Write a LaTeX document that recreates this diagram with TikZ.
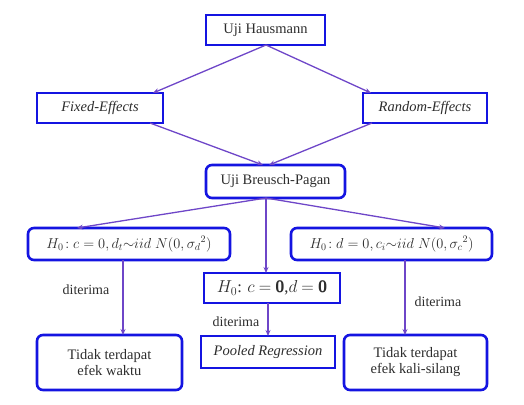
\documentclass[tikz,border=0pt]{standalone}
\usepackage{fontspec}
\setmainfont{Liberation Serif}
\usetikzlibrary{arrows.meta}
\definecolor{boxblue}{RGB}{20,20,225}
\definecolor{arrowpurple}{RGB}{110,70,200}
\definecolor{txt}{RGB}{45,45,45}
\begin{document}
\begin{tikzpicture}[x=1pt,y=-1pt,
  sqbox/.style={draw=boxblue,line width=2.6pt,fill=white,inner sep=0pt,text=txt,font=\fontsize{14.5}{16}\selectfont},
  rdbox/.style={sqbox,rounded corners=6pt},
  conn/.style={draw=arrowpurple,line width=1.3pt,-{Stealth[length=6pt,width=5pt]}},
  lbl/.style={font=\fontsize{14}{16}\selectfont,text=txt,inner sep=0pt}]
\useasboundingbox (0,0) rectangle (524,404);
\node[sqbox,minimum width=119pt,minimum height=30pt] (hau) at (265.5,30) {Uji Hausmann};
\node[sqbox,minimum width=126pt,minimum height=30pt] (fe) at (100,108) {\itshape Fixed-Effects};
\node[sqbox,minimum width=124pt,minimum height=30pt] (re) at (425,108) {\itshape Random-Effects};
\node[rdbox,minimum width=139pt,minimum height=33pt] (bp) at (275.5,181.5) {Uji Breusch-Pagan};
\node[rdbox,minimum width=202pt,minimum height=32pt] (hl) at (129,244) {$H_0\!: c=0, d_t{\sim}iid\;N(0,{\sigma_d}^2)$};
\node[rdbox,minimum width=201pt,minimum height=32pt] (hr) at (391.5,244) {$H_0\!: d=0, c_i{\sim}iid\;N(0,{\sigma_c}^2)$};
\node[sqbox,minimum width=136pt,minimum height=30pt,font=\fontsize{16.5}{18}\selectfont] (hm) at (272,288) {$H_0$: $c$ $=$ \textsf{\textbf{0}},$d$ $=$ \textsf{\textbf{0}}};
\node[sqbox,minimum width=134pt,minimum height=32pt] (pr) at (268,352) {\textit{Pooled Regression}};
\node[rdbox,minimum width=145pt,minimum height=55pt,align=center] (tw) at (109.5,362.5) {Tidak terdapat\\efek waktu};
\node[rdbox,minimum width=143pt,minimum height=55pt,align=center] (tk) at (415.5,362.5) {Tidak terdapat\\efek kali-silang};
\coordinate (hauB) at (266,45);
\coordinate (feT) at (153,93);
\coordinate (reT) at (371,93);
\coordinate (feB) at (150,123);
\coordinate (reB) at (372,123);
\coordinate (bpT1) at (263,165);
\coordinate (bpT2) at (269,165);
\coordinate (bpB) at (266,198);
\coordinate (hlT) at (77,228);
\coordinate (hrT) at (445,228);
\coordinate (hmT) at (266,273);
\coordinate (hlB) at (123,260);
\coordinate (twT) at (123,335);
\coordinate (hrB) at (405,260);
\coordinate (tkT) at (405,335);
\coordinate (hmB) at (268,303);
\coordinate (prT) at (268,336);
\draw[conn] (hauB) -- (feT);
\draw[conn] (hauB) -- (reT);
\draw[conn] (feB) -- (bpT1);
\draw[conn] (reB) -- (bpT2);
\draw[conn] (bpB) -- (hlT);
\draw[conn] (bpB) -- (hrT);
\draw[conn] (bpB) -- (hmT);
\draw[conn] (hlB) -- (twT);
\draw[conn] (hrB) -- (tkT);
\draw[conn] (hmB) -- (prT);
\node[lbl] (l1) at (86,290) {diterima};
\node[lbl] (l2) at (236,322) {diterima};
\node[lbl] (l3) at (438,302) {diterima};
\end{tikzpicture}
\end{document}
